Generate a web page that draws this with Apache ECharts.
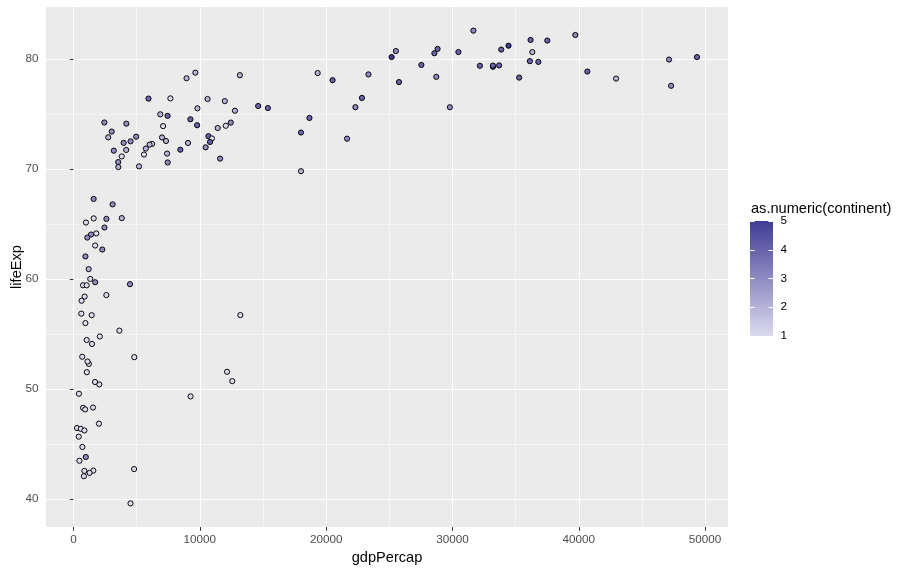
<!DOCTYPE html>
<html>
<head>
<meta charset="utf-8">
<script src="https://cdn.jsdelivr.net/npm/echarts@6/dist/echarts.min.js"></script>
<style>html,body{margin:0;padding:0;background:#fff}#c{width:911px;height:572px}</style>
</head>
<body>
<div id="c"></div>
<script>
const continentLevels = ['Africa','Americas','Asia','Europe','Oceania'];
const country = ["Afghanistan","Albania","Algeria","Angola","Argentina","Australia","Austria","Bahrain","Bangladesh","Belgium","Benin","Bolivia","Bosnia and Herzegovina","Botswana","Brazil","Bulgaria","Burkina Faso","Burundi","Cambodia","Cameroon","Canada","Central African Republic","Chad","Chile","China","Colombia","Comoros","Congo, Dem. Rep.","Congo, Rep.","Costa Rica","Cote d'Ivoire","Croatia","Cuba","Czech Republic","Denmark","Djibouti","Dominican Republic","Ecuador","Egypt","El Salvador","Equatorial Guinea","Eritrea","Ethiopia","Finland","France","Gabon","Gambia","Germany","Ghana","Greece","Guatemala","Guinea","Guinea-Bissau","Haiti","Honduras","Hong Kong, China","Hungary","Iceland","India","Indonesia","Iran","Iraq","Ireland","Israel","Italy","Jamaica","Japan","Jordan","Kenya","Korea, Dem. Rep.","Korea, Rep.","Kuwait","Lebanon","Lesotho","Liberia","Libya","Madagascar","Malawi","Malaysia","Mali","Mauritania","Mauritius","Mexico","Mongolia","Montenegro","Morocco","Mozambique","Myanmar","Namibia","Nepal","Netherlands","New Zealand","Nicaragua","Niger","Nigeria","Norway","Oman","Pakistan","Panama","Paraguay","Peru","Philippines","Poland","Portugal","Puerto Rico","Reunion","Romania","Rwanda","Sao Tome and Principe","Saudi Arabia","Senegal","Serbia","Sierra Leone","Singapore","Slovak Republic","Slovenia","Somalia","South Africa","Spain","Sri Lanka","Sudan","Swaziland","Sweden","Switzerland","Syria","Taiwan","Tanzania","Thailand","Togo","Trinidad and Tobago","Tunisia","Turkey","Uganda","United Kingdom","United States","Uruguay","Venezuela","Vietnam","West Bank and Gaza","Yemen, Rep.","Zambia","Zimbabwe"];
const continent = ["Asia","Europe","Africa","Africa","Americas","Oceania","Europe","Asia","Asia","Europe","Africa","Americas","Europe","Africa","Americas","Europe","Africa","Africa","Asia","Africa","Americas","Africa","Africa","Americas","Asia","Americas","Africa","Africa","Africa","Americas","Africa","Europe","Americas","Europe","Europe","Africa","Americas","Americas","Africa","Americas","Africa","Africa","Africa","Europe","Europe","Africa","Africa","Europe","Africa","Europe","Americas","Africa","Africa","Americas","Americas","Asia","Europe","Europe","Asia","Asia","Asia","Asia","Europe","Asia","Europe","Americas","Asia","Asia","Africa","Asia","Asia","Asia","Asia","Africa","Africa","Africa","Africa","Africa","Asia","Africa","Africa","Africa","Americas","Asia","Europe","Africa","Africa","Asia","Africa","Asia","Europe","Oceania","Americas","Africa","Africa","Europe","Asia","Asia","Americas","Americas","Americas","Asia","Europe","Europe","Americas","Africa","Europe","Africa","Africa","Asia","Africa","Europe","Africa","Asia","Europe","Europe","Africa","Africa","Europe","Asia","Africa","Africa","Europe","Europe","Asia","Asia","Africa","Asia","Africa","Americas","Africa","Europe","Africa","Europe","Americas","Americas","Americas","Asia","Asia","Asia","Africa","Africa"];
const lifeExp = [43.828,76.423,72.301,42.731,75.32,81.235,79.829,75.635,64.062,79.441,56.728,65.554,74.852,50.728,72.39,73.005,52.295,49.58,59.723,50.43,80.653,44.741,50.651,78.553,72.961,72.889,65.152,46.462,55.322,78.782,48.328,75.748,78.273,76.486,78.332,54.791,72.235,74.994,71.338,71.878,51.579,58.04,52.947,79.313,80.657,56.735,59.448,79.406,60.022,79.483,70.259,56.007,46.388,60.916,70.198,82.208,73.338,81.757,64.698,70.65,70.964,59.545,78.885,80.745,80.546,72.567,82.603,72.535,54.11,67.297,78.623,77.588,71.993,42.592,45.678,73.952,59.443,48.303,74.241,54.467,64.164,72.801,76.195,66.803,74.543,71.164,42.082,62.069,52.906,63.785,79.762,80.204,72.899,56.867,46.859,80.196,75.64,65.483,75.537,71.752,71.421,71.688,75.563,78.098,78.746,76.442,72.476,46.242,65.528,72.777,63.062,74.002,42.568,79.972,74.663,77.926,48.159,49.339,80.941,72.396,58.556,39.613,80.884,81.701,74.143,78.4,52.517,70.616,58.42,69.819,73.923,71.777,51.542,79.425,78.242,76.384,73.747,74.249,73.422,62.698,42.384,43.487];
const gdpPercap = [974.58,5937.03,6223.37,4797.23,12779.38,34435.37,36126.49,29796.05,1391.25,33692.61,1441.28,3822.14,7446.30,12569.85,9065.80,10680.79,1217.03,430.07,1713.78,2042.10,36319.24,706.02,1704.06,13171.64,4959.11,7006.58,986.15,277.55,3632.56,9645.06,1544.75,14619.22,8948.10,22833.31,35278.42,2082.48,6025.37,6873.26,5581.18,5728.35,12154.09,641.37,690.81,33207.08,30470.02,13206.48,752.75,32170.37,1327.61,27538.41,5186.05,942.65,579.23,1201.64,3548.33,39724.98,18008.94,36180.79,2452.21,3540.65,11605.71,4471.06,40676.00,25523.28,28569.72,7320.88,31656.07,4519.46,1463.25,1593.07,23348.14,47306.99,10461.06,1569.33,414.51,12057.50,1044.77,759.35,12451.66,1042.58,1803.15,10956.99,11977.57,3095.77,9253.90,3820.18,823.69,944.00,4811.06,1091.36,36797.93,25185.01,2749.32,619.68,2013.98,49357.19,22316.19,2605.95,9809.19,4172.84,7408.91,3190.48,15389.92,20509.65,19328.71,7670.12,10808.48,863.09,1598.44,21654.83,1712.47,9786.53,862.54,47143.18,18678.31,25768.26,926.14,9269.66,28821.06,3970.10,2602.39,4513.48,33859.75,37506.42,4184.55,28718.28,1107.48,7458.40,882.97,18008.51,7092.92,8458.28,1056.38,33203.26,42951.65,10611.46,11415.81,2441.58,3025.35,2280.77,1271.21,469.71];
const xTicks = [0,10000,20000,30000,40000,50000];
const xMinorTicks = [5000,15000,25000,35000,45000];
const yTicks = [40,50,60,70,80];
const yMinorTicks = [45,55,65,75];
const legendTicks = [1,2,3,4,5];
const fillColors = ['#dcdaee','#b5b3d8','#8e8bc2','#6763ac','#3f3c96'];

const FONT = '"Liberation Sans", Arial, sans-serif';
const code = continent.map(c => continentLevels.indexOf(c) + 1);
const points = gdpPercap.map((g, i) => [g, lifeExp[i], code[i], country[i]]);

function expand(arr) {
  const lo = Math.min(...arr), hi = Math.max(...arr), pad = (hi - lo) * 0.05;
  return [lo - pad, hi + pad];
}
const xr = expand(gdpPercap), yr = expand(lifeExp);
const plain = v => String(v);

const chart = echarts.init(document.getElementById('c'), null, {renderer: 'canvas'});
const tickStyle = {color: '#333333', width: 1};
chart.setOption({
  animation: false,
  backgroundColor: '#ffffff',
  textStyle: {fontFamily: FONT},
  title: {
    text: 'as.numeric(continent)', left: 751, top: 201, padding: 0,
    textStyle: {fontFamily: FONT, fontSize: 14.6, fontWeight: 'normal', color: '#000000'}
  },
  tooltip: {trigger: 'item', formatter: p => p.data[3] + '<br>gdpPercap: ' + p.data[0] + '<br>lifeExp: ' + p.data[1]},
  grid: [
    {left: 46, right: 183, top: 7, bottom: 45, show: true, backgroundColor: '#EBEBEB', borderWidth: 0,
     containLabel: false, outerBoundsMode: 'none'},
    {left: 750, top: 221, width: 23, height: 115, show: false, containLabel: false, outerBoundsMode: 'none'}
  ],
  xAxis: [
    {
      type: 'value', gridIndex: 0, min: xr[0], max: xr[1],
      name: 'gdpPercap', nameLocation: 'middle', nameGap: 23, nameMoveOverlap: false,
      nameTextStyle: {fontFamily: FONT, fontSize: 14.6, color: '#000000'},
      axisLine: {show: false},
      axisTick: {show: true, length: 3.7, lineStyle: tickStyle, customValues: xTicks},
      axisLabel: {color: '#4D4D4D', fontSize: 11.7, fontFamily: FONT, margin: 6.5, customValues: xTicks, formatter: plain},
      splitLine: {show: true, lineStyle: {color: '#ffffff', width: 1.07}}
    },
    {
      type: 'value', gridIndex: 0, min: xr[0], max: xr[1], position: 'bottom',
      axisLine: {show: false},
      axisTick: {show: false, customValues: xMinorTicks},
      axisLabel: {show: false, customValues: xMinorTicks},
      splitLine: {show: true, lineStyle: {color: '#ffffff', width: 0.53}}
    },
    {type: 'category', gridIndex: 1, data: [''], show: false}
  ],
  yAxis: [
    {
      type: 'value', gridIndex: 0, min: yr[0], max: yr[1],
      name: 'lifeExp', nameLocation: 'middle', nameGap: 22, nameRotate: 90, nameMoveOverlap: false,
      nameTextStyle: {fontFamily: FONT, fontSize: 14.6, color: '#000000'},
      axisLine: {show: false},
      axisTick: {show: true, length: 3.7, lineStyle: tickStyle, customValues: yTicks},
      axisLabel: {color: '#4D4D4D', fontSize: 11.7, fontFamily: FONT, margin: 7.5, customValues: yTicks, formatter: plain},
      splitLine: {show: true, lineStyle: {color: '#ffffff', width: 1.07}}
    },
    {
      type: 'value', gridIndex: 0, min: yr[0], max: yr[1], position: 'left',
      axisLine: {show: false},
      axisTick: {show: false, customValues: yMinorTicks},
      axisLabel: {show: false, customValues: yMinorTicks},
      splitLine: {show: true, lineStyle: {color: '#ffffff', width: 0.53}}
    },
    {
      type: 'value', gridIndex: 1, min: 1, max: 5, interval: 1, position: 'right', z: 10,
      axisLine: {show: false},
      axisTick: {show: true, inside: true, length: 4.6, lineStyle: {color: '#ffffff', width: 1}, customValues: legendTicks},
      axisLabel: {color: '#000000', fontSize: 11.7, fontFamily: FONT, margin: 7.5, customValues: legendTicks, formatter: plain},
      splitLine: {show: false}
    },
    {
      type: 'value', gridIndex: 1, min: 1, max: 5, interval: 1, position: 'left', z: 10,
      axisLine: {show: false},
      axisTick: {show: true, inside: true, length: 4.6, lineStyle: {color: '#ffffff', width: 1}, customValues: legendTicks},
      axisLabel: {show: false},
      splitLine: {show: false}
    }
  ],
  visualMap: {
    type: 'continuous', show: false, dimension: 2, min: 1, max: 5, seriesIndex: 0,
    inRange: {color: fillColors}
  },
  series: [
    {
      type: 'scatter', xAxisIndex: 0, yAxisIndex: 0, data: points,
      symbol: 'circle', symbolSize: 5.2,
      itemStyle: {borderColor: '#000000', borderWidth: 0.95, opacity: 1}
    },
    {
      type: 'bar', xAxisIndex: 2, yAxisIndex: 2, stack: 'cb', data: [legendTicks[0]],
      barWidth: '100%', itemStyle: {color: 'rgba(0,0,0,0)'}, silent: true
    },
    {
      type: 'bar', xAxisIndex: 2, yAxisIndex: 2, stack: 'cb',
      data: [legendTicks[legendTicks.length - 1] - legendTicks[0]],
      barWidth: '100%', silent: true,
      itemStyle: {
        color: {
          type: 'linear', x: 0, y: 0, x2: 0, y2: 1,
          colorStops: fillColors.slice().reverse().map((c, i, a) => ({offset: i / (a.length - 1), color: c}))
        }
      }
    }
  ]
});
</script>
</body>
</html>
